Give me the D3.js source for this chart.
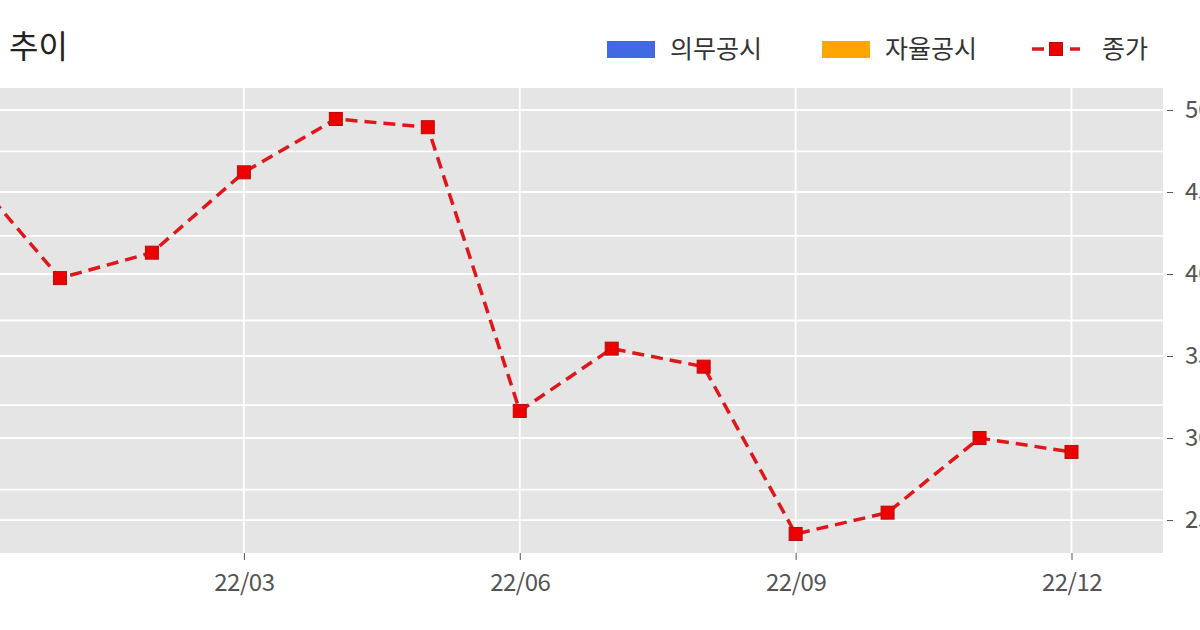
<!DOCTYPE html>
<html>
<head>
<meta charset="utf-8">
<script src="https://cdn.jsdelivr.net/npm/d3@7"></script>
<style>
  html, body { margin: 0; padding: 0; background: #fff; overflow: hidden; }
  svg { display: block; font-family: "Noto Sans CJK KR", "Noto Sans", sans-serif; }
</style>
</head>
<body>
<svg id="chart" width="1200" height="630"></svg>
<script>
// ---- data ----
const months = ["21/12","22/01","22/02","22/03","22/04","22/05","22/06","22/07","22/08","22/09","22/10","22/11","22/12"];
const closePrice = [46300, 39750, 41300, 46200, 49450, 48950, 31650, 35450, 34350, 24150, 25450, 30000, 29150];
const xTickLabels = ["21/12", "22/03", "22/06", "22/09", "22/12"];
const priceTicks = [25000, 30000, 35000, 40000, 45000, 50000];
const countTicks = [-0.04, -0.02, 0, 0.02, 0.04];
const legendItems = [
  { label: "의무공시", color: "#4169e1", type: "bar" },
  { label: "자율공시", color: "#ffa500", type: "bar" },
  { label: "종가", color: "#e0161b", type: "line" }
];
const titleText = "추이";

// ---- layout ----
const svg = d3.select("#chart");
const plot = { left: -90, right: 1163, top: 88, bottom: 553 };

const x = d3.scaleLinear().domain([0, months.length - 1]).range([-32, 1071.5]);
const yPrice = d3.scaleLinear().domain([22990, 51340]).range([plot.bottom, plot.top]);
const yCount = d3.scaleLinear().domain([-0.055, 0.055]).range([plot.bottom, plot.top]);

// background
svg.append("rect")
  .attr("x", plot.left).attr("y", plot.top)
  .attr("width", plot.right - plot.left).attr("height", plot.bottom - plot.top)
  .attr("fill", "#e5e5e5");

const g = svg.append("g");

g.selectAll(".gcount").data(countTicks).enter().append("line")
  .attr("x1", plot.left).attr("x2", plot.right)
  .attr("y1", d => yCount(d)).attr("y2", d => yCount(d))
  .attr("stroke", "#fff").attr("stroke-width", 1.8);

g.selectAll(".gprice").data(priceTicks).enter().append("line")
  .attr("x1", plot.left).attr("x2", plot.right)
  .attr("y1", d => yPrice(d)).attr("y2", d => yPrice(d))
  .attr("stroke", "#fff").attr("stroke-width", 1.8);

const xTickIdx = xTickLabels.map(l => months.indexOf(l));
g.selectAll(".gx").data(xTickIdx).enter().append("line")
  .attr("x1", d => x(d)).attr("x2", d => x(d))
  .attr("y1", plot.top).attr("y2", plot.bottom)
  .attr("stroke", "#fff").attr("stroke-width", 1.8);

// x axis
const xAxis = d3.axisBottom(x)
  .tickValues(xTickIdx)
  .tickFormat(i => months[i])
  .tickSize(7).tickPadding(9);
const gx = svg.append("g").attr("transform", `translate(0,${plot.bottom})`).call(xAxis);
gx.select(".domain").remove();
gx.selectAll(".tick line").attr("stroke", "#555");
gx.selectAll(".tick text").attr("fill", "#555").attr("font-size", 24)
  .style("font-family", "'Noto Sans CJK KR', sans-serif").attr("dy", "0.9em")
  .attr("letter-spacing", "-0.5");

// right axis
const yAxis = d3.axisRight(yPrice)
  .tickValues(priceTicks)
  .tickFormat(d3.format(","))
  .tickSize(6).tickPadding(12);
const gy = svg.append("g").attr("transform", `translate(${plot.right + 4},0)`).call(yAxis);
gy.select(".domain").remove();
gy.selectAll(".tick line").attr("stroke", "#555");
gy.selectAll(".tick text").attr("fill", "#555").attr("font-size", 24)
  .style("font-family", "'Noto Sans CJK KR', sans-serif");

// price line
const line = d3.line().x((d, i) => x(i)).y(d => yPrice(d));
svg.append("path")
  .datum(closePrice)
  .attr("d", line)
  .attr("fill", "none")
  .attr("stroke", "#e0161b")
  .attr("stroke-width", 3.5)
  .attr("stroke-dasharray", "12,7");

svg.selectAll(".pt").data(closePrice).enter().append("rect")
  .attr("x", (d, i) => x(i) - 6.5).attr("y", d => yPrice(d) - 6.5)
  .attr("width", 13).attr("height", 13)
  .attr("fill", "#ee0000").attr("stroke", "#b01010").attr("stroke-width", 1);

// title
svg.append("text")
  .attr("x", 9).attr("y", 58)
  .attr("font-size", 32).attr("fill", "#222")
  .text(titleText);

// legend
const legendX = [607, 822, 1032];
const textOffset = [63, 63, 70];
const lg = svg.append("g");
legendItems.forEach((it, i) => {
  const lx = legendX[i];
  if (it.type === "bar") {
    lg.append("rect").attr("x", lx).attr("y", 41).attr("width", 48).attr("height", 17).attr("fill", it.color);
  } else {
    lg.append("line").attr("x1", lx).attr("x2", lx + 48).attr("y1", 49).attr("y2", 49)
      .attr("stroke", it.color).attr("stroke-width", 3.5).attr("stroke-dasharray", "12,7");
    lg.append("rect").attr("x", lx + 17.5).attr("y", 42.5).attr("width", 13).attr("height", 13)
      .attr("fill", "#ee0000").attr("stroke", "#b01010");
  }
  lg.append("text").attr("x", lx + textOffset[i]).attr("y", 49).attr("dy", "0.35em")
    .attr("font-size", 25).attr("fill", "#333").text(it.label);
});
</script>
</body>
</html>
